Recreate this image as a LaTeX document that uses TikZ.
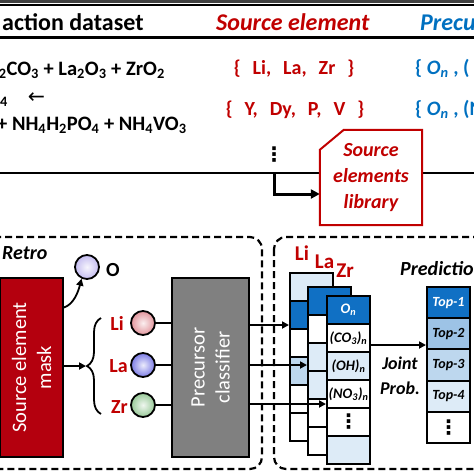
\documentclass[tikz,border=0pt]{standalone}
\usepackage{fontspec}
\setmainfont{Carlito}
\newfontfamily\arrfont{DejaVu Sans}
\usetikzlibrary{arrows.meta,decorations.pathreplacing}
\definecolor{srcred}{HTML}{C00000}
\definecolor{maskred}{HTML}{B4000E}
\definecolor{pblue}{HTML}{0070C0}
\definecolor{cdark}{HTML}{1070C4}
\definecolor{cmid}{HTML}{9DC3E6}
\definecolor{csoft}{HTML}{BDD7EE}
\definecolor{clight}{HTML}{DDEBF7}
\definecolor{ballO}{HTML}{C4BCF0}
\definecolor{ballLi}{HTML}{E2959C}
\definecolor{ballLa}{HTML}{7C7CE6}
\definecolor{ballZr}{HTML}{98C998}
\def\sub#1{\textsubscript{#1}}
\def\fsize#1#2{\fontsize{#1}{#2}\selectfont}

\begin{document}
\begin{tikzpicture}[x=1pt,y=-1pt,>={Triangle[length=7pt,width=7pt]},
    every node/.style={inner sep=0pt},
    head/.style={font=\fsize{24}{28}\bfseries},
    row/.style={font=\fsize{20.5}{24}\bfseries},
    setrow/.style={font=\fsize{20}{24}\bfseries,execute at begin node={\spaceskip=0.6em\relax}},
    lib/.style={minimum width=102pt,minimum height=95pt},
    libtext/.style={text=srcred,align=center,font=\fsize{20}{26}\bfseries\itshape},
    panel/.style={draw,line width=2.2pt,dash pattern=on 7pt off 4pt,rounded corners=12pt},
    bigbox/.style={draw,line width=1.8pt,minimum width=#1,minimum height=179pt},
    boxtext/.style={rotate=90,white,align=center,font=\fsize{20.5}{25}},
    ball/.style={circle,draw,line width=1.8pt,minimum size=24pt,inner color=white!85!#1,outer color=#1},
    elem/.style={text=srcred,font=\fsize{20}{24}\bfseries},
    cell/.style={draw,line width=2pt,minimum width=43pt,minimum height=28pt,font=\fsize{14.5}{16}\bfseries\itshape},
    topcell/.style={cell,minimum height=31.2pt,font=\fsize{14}{16}\bfseries\itshape},
    conn/.style={line width=1.8pt}]

  \useasboundingbox (0,0) rectangle (474,474);
  \clip (0,0) rectangle (474,474);

  \draw[line width=3pt,black!75] (0,1.5) -- (474,1.5);
  \draw[line width=1.5pt] (0,5) -- (474,5);
  \draw[line width=3pt] (0,37.5) -- (474,37.5);

  \node[head,anchor=base west] (hdata) at (2,30) {action dataset};
  \node[head,anchor=base west,text=srcred] (hsrc) at (216,30) {\itshape Source element};
  \node[head,anchor=base west,text=pblue] (hpre) at (420,30) {\itshape Precu};

  \node[row,anchor=base east] (rx1) at (165,75) {\sub{2}CO\sub{3} + La\sub{2}O\sub{3} + ZrO\sub{2}};
  \node[row,anchor=base west] (rx2) at (0,103) {\sub{4}\hspace{20pt}{\arrfont\mdseries ←}};
  \node[row,anchor=base west] (rx3) at (-3,130) {+ NH\sub{4}H\sub{2}PO\sub{4} + NH\sub{4}VO\sub{3}};

  \node[setrow,anchor=base,text=srcred] (se1) at (294,74) {\{ Li, La, Zr \}};
  \node[setrow,anchor=base,text=srcred] (se2) at (295,115) {\{ Y, Dy, P, V \}};
  \node[row,anchor=base west,text=pblue] (pr1) at (415,74) {\{ \textit{O\sub{n}} , (};
  \node[row,anchor=base west,text=pblue] (pr2) at (415,115) {\{ \textit{O\sub{n}} , (N};

  \node[font=\arrfont\bfseries\fsize{20}{20}] (vdots) at (274,155) {⋮};

  \coordinate (junc) at (274,173);
  \node[lib] (lib) at (371,177.5) {};
  \coordinate (libin) at (lib.west |- 0,194);
  \draw[line width=2pt] (0,173) -- (lib.west |- junc);
  \draw[line width=2pt] (lib.east |- junc) -- (474,173);
  \draw[line width=3pt,->,>={Triangle[length=9pt,width=9pt]}] (junc) |- (libin);
  \draw[srcred,line width=2pt] (lib.south west) -- (lib.south east) -- (lib.north east)
    -- ([xshift=24pt]lib.north west) -- ([yshift=-20pt]lib.north west) -- cycle;
  \node[libtext] (libtxt) at (lib) {Source\\elements\\library};

  \draw[panel] (-20,237) rectangle (262,469);
  \draw[panel] (274,237) rectangle (500,469);

  \node[anchor=base west,font=\fsize{20}{24}\bfseries\itshape] (retro) at (2,259) {Retro};

  \node[bigbox=63pt,fill=maskred] (mask) at (31.5,367.5) {};
  \node[boxtext] (masktxt) at (mask) {Source element\\mask};
  \node[bigbox=77pt,fill=black!50] (cls) at (210.5,367.5) {};
  \node[boxtext] (clstxt) at (cls) {Precursor\\classifier};

  \node[ball=ballO] (oball) at (87,267) {};
  \node[anchor=base west,font=\fsize{20}{24}\bfseries] (olab) at (106,276) {O};
  \node[elem,anchor=base east] (lilab) at (124,330) {Li};
  \node[elem,anchor=base east] (lalab) at (128,372) {La};
  \node[elem,anchor=base east] (zrlab) at (128,413) {Zr};
  \node[ball=ballLi] (bli) at (143,323) {};
  \node[ball=ballLa] (bla) at (143,365) {};
  \node[ball=ballZr] (bzr) at (143,405) {};

  \path[conn] (bli) edge (bli -| cls.west)
              (bla) edge (bla -| cls.west)
              (bzr) edge (bzr -| cls.west);

  \draw[conn,decorate,decoration={brace,amplitude=14pt}] (101,414) -- (101,318);
  \coordinate (brc) at (86,366);
  \draw[conn,->] (mask.east |- brc) -- (brc);
  \draw[conn,->] ([yshift=60pt]mask.east) .. controls +(10,-3) and +(-3,12) .. (oball.-115);

  \node[elem,anchor=base,font=\fsize{21}{24}\bfseries] (colli) at (302,260) {Li};
  \node[elem,anchor=base,font=\fsize{21}{24}\bfseries] (colla) at (324.5,268) {La};
  \node[elem,anchor=base,font=\fsize{21}{24}\bfseries] (colzr) at (345,277) {Zr};

  \foreach \f [count=\i] in {clight,cdark,white,csoft,white,white}
    \node[cell,fill=\f] (li\i) at (311.5,259+28*\i) {};
  \foreach \f [count=\i] in {cdark,white,clight,clight,white,white}
    \node[cell,fill=\f] (la\i) at (329.5,273+28*\i) {};
  \foreach \f/\txt [count=\i] in {cdark/{\color{white}O\sub{n}},white/(CO\sub{3})\sub{n},
      clight/(OH)\sub{n},white/(NO\sub{3})\sub{n},white/{\upshape\arrfont\fsize{20}{20}⋮},clight/{}}
    \node[cell,fill=\f] (zr\i) at (348.5,282+28*\i) {\txt};

  \foreach \f/\txt [count=\i] in {cdark/{\color{white}Top-1},cmid/Top-2,csoft/Top-3,
      clight/Top-4,white/{\upshape\arrfont\fsize{20}{20}⋮}}
    \node[topcell,fill=\f] (top\i) at (448.5,271.4+31.2*\i) {\txt};

  \path[conn,->] (cls.east |- 0,325) edge (li1.west |- 0,325)
                 (cls.east |- 0,365) edge (la1.west |- 0,365)
                 (cls.east |- 0,404) edge (zr1.west |- 0,404);
  \path[conn,->] (zr2.east |- 0,345) edge (top2.west |- 0,345);

  \node[align=center,font=\fsize{18}{25}\bfseries\itshape] (joint) at (400,376) {Joint\\Prob.};
  \node[anchor=base west,font=\fsize{20}{24}\bfseries\itshape] (pred) at (400,275) {Predictio};
\end{tikzpicture}
\end{document}
